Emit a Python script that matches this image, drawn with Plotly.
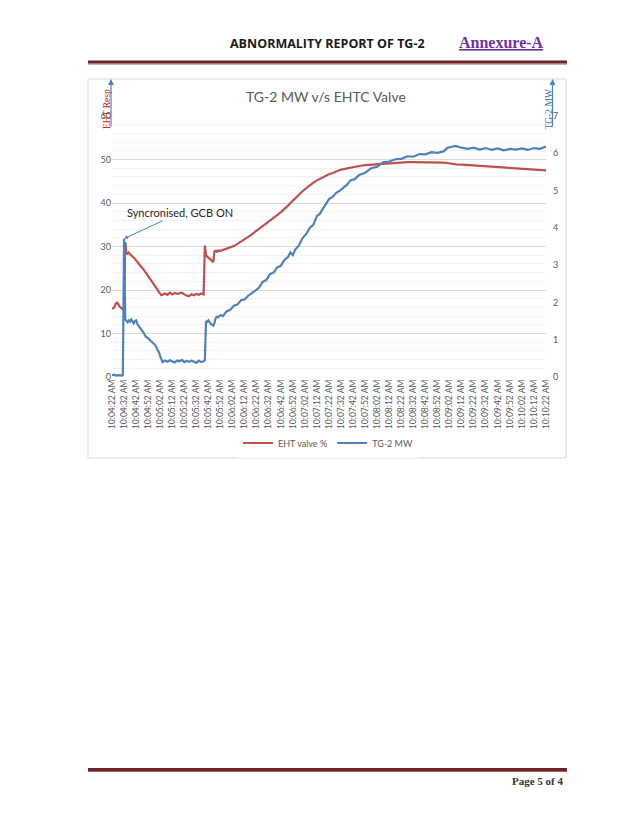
import plotly.graph_objects as go
import pandas as pd

# ---------------- data ----------------
start_time = "2020-01-01 10:04:22"
end_time = "2020-01-01 10:10:22"
sample_seconds = [0, 2, 3, 4, 5, 6, 8, 9, 10, 11, 12, 13, 14, 15, 16, 17, 18, 19, 20, 21,
                  22, 24, 26, 28, 30, 32, 34, 36, 38, 39, 40, 41, 42, 44, 46, 48, 50, 52, 54, 56,
                  58, 60, 62, 64, 66, 68, 70, 72, 74, 76, 77, 78, 79, 80, 81, 82, 83, 84, 85, 86,
                  87, 88, 90, 92, 95, 98, 101, 104, 107, 110, 113, 116, 119, 122, 125, 128, 131, 134, 137, 140,
                  143, 146, 148, 150, 152, 155, 158, 161, 164, 167, 170, 172, 174, 177, 180, 183, 186, 189, 192, 195,
                  198, 201, 205, 210, 215, 220, 225, 230, 235, 240, 245, 250, 255, 260, 265, 270, 275, 278, 281, 285,
                  290, 295, 300, 305, 310, 315, 320, 325, 330, 335, 340, 345, 350, 355, 360]

eht_valve_pct = [15.7, 16.0, 16.8, 17.1, 16.9, 16.3, 15.8, 15.6, 15.5, 31.0, 28.5, 28.3, 28.6, 28.2, 28.0, 27.7, 27.4, 27.2, 26.8, 26.4,
                 26.1, 25.4, 24.8, 24.0, 23.4, 22.5, 21.6, 20.8, 20.0, 19.5, 19.0, 18.8, 18.9, 19.2, 18.9, 19.4, 19.0, 19.3, 19.1, 19.2,
                 19.4, 19.0, 18.7, 18.6, 19.0, 18.8, 19.1, 18.9, 19.2, 19.0, 30.2, 28.0, 27.6, 27.4, 27.2, 26.9, 26.6, 26.4, 28.9, 29.0,
                 28.8, 29.1, 29.0, 29.2, 29.4, 29.7, 30.1, 30.6, 31.1, 31.6, 32.2, 32.8, 33.4, 34.0, 34.6, 35.2, 35.9, 36.5, 37.2, 37.9,
                 38.6, 39.4, 40.0, 40.6, 41.1, 41.9, 42.7, 43.4, 44.1, 44.7, 45.2, 45.5, 45.8, 46.2, 46.6, 46.9, 47.3, 47.6, 47.8, 48.0,
                 48.1, 48.3, 48.5, 48.7, 48.8, 49.0, 49.1, 49.2, 49.3, 49.4, 49.4, 49.4, 49.4, 49.4, 49.4, 49.3, 49.3, 49.2, 49.0, 48.9,
                 48.8, 48.7, 48.6, 48.5, 48.4, 48.3, 48.2, 48.1, 48.0, 47.9, 47.9, 47.8, 47.7, 47.6, 47.5]

tg2_mw = [0.05, 0.06, 0.04, 0.05, 0.06, 0.05, 0.04, 0.05, 3.71, 1.55, 1.50, 1.47, 1.52, 1.49, 1.54, 1.50, 1.44, 1.50, 1.52, 1.42,
          1.38, 1.28, 1.20, 1.08, 1.04, 0.97, 0.90, 0.85, 0.72, 0.66, 0.55, 0.46, 0.40, 0.44, 0.41, 0.45, 0.43, 0.39, 0.44, 0.42,
          0.46, 0.40, 0.43, 0.41, 0.44, 0.42, 0.38, 0.44, 0.40, 0.42, 0.45, 1.50, 1.48, 1.52, 1.45, 1.42, 1.40, 1.38, 1.45, 1.58,
          1.62, 1.60, 1.66, 1.63, 1.76, 1.80, 1.91, 1.94, 2.06, 2.08, 2.18, 2.24, 2.32, 2.40, 2.55, 2.60, 2.76, 2.80, 2.94, 2.98,
          3.14, 3.22, 3.34, 3.27, 3.42, 3.53, 3.72, 3.83, 4.00, 4.08, 4.32, 4.36, 4.47, 4.60, 4.77, 4.83, 4.94, 5.00, 5.08, 5.16,
          5.28, 5.30, 5.42, 5.48, 5.60, 5.64, 5.76, 5.78, 5.84, 5.85, 5.92, 5.91, 5.98, 5.97, 6.03, 6.01, 6.05, 6.14, 6.17, 6.20,
          6.15, 6.12, 6.15, 6.10, 6.14, 6.09, 6.13, 6.08, 6.12, 6.10, 6.13, 6.09, 6.14, 6.12, 6.18]

series_names = ["EHT valve %", "TG-2 MW"]
chart_title = "TG-2 MW v/s EHTC Valve"
annotation_text = "Syncronised, GCB ON"
annotation_seconds = 10
annotation_value = 3.71

times = pd.to_datetime(start_time) + pd.to_timedelta(sample_seconds, unit="s")

# ---------------- layout helpers ----------------
W, H = 638, 826
L, R, T, B = 112, 546, 116, 377
PW, PH = R - L, B - T


def px(x):
    return (x - L) / PW


def py(y):
    return (B - y) / PH


RED = "#C0504D"
BLUE = "#4F81BD"
GREY = "#595959"
FONT = "Lato, Open Sans, sans-serif"

fig = go.Figure()
fig.add_trace(go.Scatter(x=times, y=eht_valve_pct, name=series_names[0], mode="lines",
                         line=dict(color=RED, width=2.2), yaxis="y"))
fig.add_trace(go.Scatter(x=times, y=tg2_mw, name=series_names[1], mode="lines",
                         line=dict(color=BLUE, width=2.2), yaxis="y2"))

fig.update_layout(
    width=W, height=H, autosize=False,
    margin=dict(l=L, r=W - R, t=T, b=H - B),
    paper_bgcolor="white", plot_bgcolor="white",
    font=dict(family=FONT, color=GREY, size=9),
    showlegend=True,
    legend=dict(orientation="h", x=px(328), y=py(443), xanchor="center", yanchor="middle",
                font=dict(size=9, color=GREY), itemwidth=30, tracegroupgap=0),
    xaxis=dict(type="date", range=[start_time, end_time], tick0=start_time, dtick=10000,
               tickformat="%I:%M:%S %p", tickangle=-90, showgrid=False, zeroline=False,
               showline=False, ticks="", tickfont=dict(size=8.5, color=GREY)),
    yaxis=dict(range=[0, 60], dtick=10, showgrid=True, gridcolor="#D9D9D9", gridwidth=1,
               zeroline=False, showline=False, ticks="", tickfont=dict(size=9, color=GREY),
               minor=dict(dtick=2, showgrid=True, gridcolor="#F2F2F2", gridwidth=1)),
    yaxis2=dict(range=[0, 7], dtick=1, overlaying="y", side="right", showgrid=False,
                zeroline=False, showline=False, ticks="", tickfont=dict(size=9, color=GREY),
                ticklabelstandoff=6),
)

shapes = []
# header rule
shapes.append(dict(type="rect", xref="paper", yref="paper", x0=px(88), x1=px(567),
                   y0=py(60.5), y1=py(63.5), fillcolor="#6B2626", line=dict(width=0), layer="above"))
shapes.append(dict(type="line", xref="paper", yref="paper", x0=px(88), x1=px(567),
                   y0=py(64), y1=py(64), line=dict(color="#A86060", width=1), layer="above"))
# footer rule
shapes.append(dict(type="rect", xref="paper", yref="paper", x0=px(88), x1=px(567),
                   y0=py(768), y1=py(771), fillcolor="#6B2626", line=dict(width=0), layer="above"))
shapes.append(dict(type="line", xref="paper", yref="paper", x0=px(88), x1=px(567),
                   y0=py(771.5), y1=py(771.5), line=dict(color="#A86060", width=1), layer="above"))
# chart frame
shapes.append(dict(type="rect", xref="paper", yref="paper", x0=px(88), x1=px(566),
                   y0=py(79), y1=py(458), fillcolor="rgba(0,0,0,0)",
                   line=dict(color="#D9D9D9", width=1), layer="below"))
fig.update_layout(shapes=shapes)

annotations = [
    dict(text="<b>ABNORMALITY REPORT OF TG-2</b>", xref="paper", yref="paper", x=px(327), y=py(43),
         xanchor="center", yanchor="middle", showarrow=False,
         font=dict(family="Open Sans, sans-serif", size=12.5, color="#1A1A1A")),
    dict(text="<b><u>Annexure-A</u></b>", xref="paper", yref="paper", x=px(501), y=py(42),
         xanchor="center", yanchor="middle", showarrow=False,
         font=dict(family="Liberation Serif, serif", size=16, color="#7030A0")),
    dict(text="<b>Page 5 of 4</b>", xref="paper", yref="paper", x=px(566), y=py(781),
         xanchor="right", yanchor="middle", showarrow=False,
         font=dict(family="Liberation Serif, serif", size=11, color="#333333")),
    dict(text=chart_title, xref="paper", yref="paper", x=px(326), y=py(96),
         xanchor="center", yanchor="middle", showarrow=False,
         font=dict(family=FONT, size=14, color=GREY)),
    # axis arrows
    dict(text="", xref="paper", yref="paper", x=px(111), y=py(79), ax=0, ay=49,
         showarrow=True, arrowhead=2, arrowsize=1, arrowwidth=1.2, arrowcolor=BLUE),
    dict(text="", xref="paper", yref="paper", x=px(552.5), y=py(79), ax=0, ay=49,
         showarrow=True, arrowhead=2, arrowsize=1, arrowwidth=1.2, arrowcolor=BLUE),
    dict(text="EHT Resp", xref="paper", yref="paper", x=px(107), y=py(109), textangle=-90,
         xanchor="center", yanchor="middle", showarrow=False,
         font=dict(family="Liberation Serif, serif", size=9.5, color="#D02020")),
    dict(text="TG-2 MW", xref="paper", yref="paper", x=px(548.5), y=py(110), textangle=-90,
         xanchor="center", yanchor="middle", showarrow=False,
         font=dict(family="Liberation Serif, serif", size=9.5, color="#2E75B6")),
    # callout
    dict(text=annotation_text, x=pd.to_datetime(start_time) + pd.to_timedelta(annotation_seconds, unit="s"),
         y=annotation_value, xref="x", yref="y2", ax=56, ay=-26, showarrow=True,
         arrowhead=2, arrowsize=0.8, arrowwidth=1, arrowcolor=BLUE,
         font=dict(family=FONT, size=11, color="#262626")),
]
fig.update_layout(annotations=annotations)

fig.write_html("out.html", config={"displayModeBar": False},
               post_script="document.body.style.margin='0';")
